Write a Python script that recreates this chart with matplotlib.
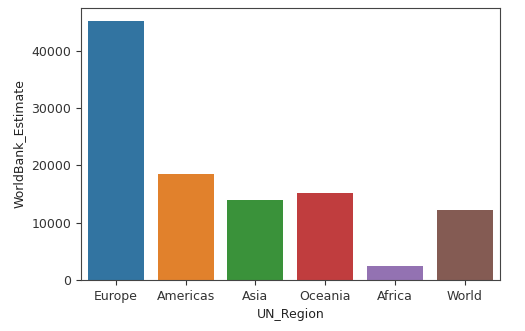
import matplotlib
matplotlib.use("Agg")
import matplotlib.pyplot as plt
import seaborn as sns
import pandas as pd

regions = ["Europe", "Americas", "Asia", "Oceania", "Africa", "World"]
estimates = [45240, 18520, 13970, 15200, 2440, 12230]

df = pd.DataFrame({"UN_Region": regions, "WorldBank_Estimate": estimates})

plt.rcParams["font.size"] = 9
plt.rcParams["text.color"] = "#222222"
plt.rcParams["axes.labelcolor"] = "#222222"
plt.rcParams["xtick.color"] = "#333333"
plt.rcParams["ytick.color"] = "#333333"
plt.rcParams["axes.edgecolor"] = "#444444"

fig = plt.figure(figsize=(5.25, 3.31), dpi=100)
ax = fig.add_axes([0.154, 0.154, 0.798, 0.822])
sns.barplot(data=df, x="UN_Region", y="WorldBank_Estimate", hue="UN_Region",
            palette="tab10", saturation=0.75, legend=False, errorbar=None, ax=ax)
ax.set_ylim(0, 47500)

fig.savefig("out.png", dpi=100)
